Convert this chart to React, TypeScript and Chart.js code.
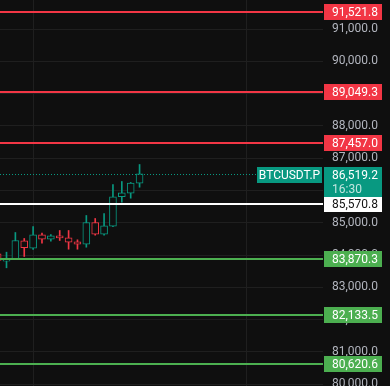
import React, { useEffect, useRef } from 'react';
import { Chart, registerables } from 'chart.js';

Chart.register(...registerables);

// ---- data ----
const candleX = [0, 1, 2, 3, 4, 5, 6, 7, 8, 9, 10, 11, 12, 13, 14, 15, 16];
const candleOpen = [84040, 83810, 83872, 84442, 84213, 84628, 84492, 84597, 84535, 84411, 84337, 85009, 84647, 84894, 85805, 85916, 86230];
const candleClose = [83832, 83863, 84452, 84226, 84628, 84492, 84597, 84535, 84399, 84337, 85009, 84647, 84907, 85805, 85929, 86230, 86519.2];
const candleHigh = [84060, 84089, 84699, 84514, 84885, 84678, 84637, 84761, 84761, 84473, 85226, 85133, 85288, 86186, 86279, 86250, 86805];
const candleLow = [83800, 83606, 83860, 83956, 84173, 84368, 84430, 84452, 84182, 84182, 84244, 84616, 84616, 84880, 85638, 85762, 86102];

const lastPrice = 86519.2;
const symbolLabel = 'BTCUSDT.P';
const countdownLabel = '16:30';

const levelValues = [91521.8, 89049.3, 87457.0, 85570.8, 83870.3, 82133.5, 80620.6];
const levelKinds = ['resistance', 'resistance', 'resistance', 'pivot', 'support', 'support', 'support'];

const yTicks = [80000, 81000, 82000, 83000, 84000, 85000, 86000, 87000, 88000, 89000, 90000, 91000];
const timeGridX = [4, 28];

// ---- styles ----
const BG = '#0f0f0f';
const GRID = '#1f1f1f';
const TEXT = '#b2b5be';
const UP = '#089981';
const DOWN = '#f23645';
const KIND_COLORS: Record<string, string> = {
  resistance: '#f23645',
  pivot: '#ffffff',
  support: '#4caf50',
};
const KIND_TEXT: Record<string, string> = {
  resistance: '#ffffff',
  pivot: '#131313',
  support: '#ffffff',
};
const FONT = 'Roboto';

const fmt = (v: number) =>
  v.toLocaleString('en-US', { minimumFractionDigits: 1, maximumFractionDigits: 1 });

const candleColors = candleX.map((_, i) => (candleClose[i] >= candleOpen[i] ? UP : DOWN));

const overlayPlugin = {
  id: 'levelsOverlay',
  afterDraw(chart: any) {
    const ctx = chart.ctx as CanvasRenderingContext2D;
    const ys = chart.scales.y;
    const area = chart.chartArea;
    const badgeL = area.right + 1;
    const badgeR = badgeL + 58;
    ctx.save();
    // level lines
    levelValues.forEach((v, i) => {
      const py = ys.getPixelForValue(v);
      ctx.strokeStyle = KIND_COLORS[levelKinds[i]];
      ctx.lineWidth = 2;
      ctx.beginPath();
      ctx.moveTo(area.left, Math.round(py));
      ctx.lineTo(area.right, Math.round(py));
      ctx.stroke();
    });
    // last price dotted line
    const lp = ys.getPixelForValue(lastPrice);
    const symL = 257;
    const symR = area.right - 1;
    ctx.strokeStyle = UP;
    ctx.lineWidth = 1;
    ctx.setLineDash([1, 2]);
    ctx.beginPath();
    ctx.moveTo(area.left, Math.round(lp) + 0.5);
    ctx.lineTo(symL, Math.round(lp) + 0.5);
    ctx.stroke();
    ctx.setLineDash([]);

    ctx.font = `12px ${FONT}`;
    ctx.textBaseline = 'middle';
    ctx.textAlign = 'left';
    // level badges
    levelValues.forEach((v, i) => {
      const py = Math.round(ys.getPixelForValue(v));
      ctx.fillStyle = KIND_COLORS[levelKinds[i]];
      ctx.fillRect(badgeL, py - 8, badgeR - badgeL, 16);
      ctx.fillStyle = KIND_TEXT[levelKinds[i]];
      ctx.fillText(fmt(v), badgeL + 8, py + 0.5);
    });
    // symbol badge
    const cy = Math.round(lp) + 1;
    ctx.fillStyle = UP;
    ctx.fillRect(symL, cy - 8, symR - symL, 16);
    ctx.fillStyle = '#ffffff';
    ctx.textAlign = 'center';
    ctx.fillText(symbolLabel, (symL + symR) / 2, cy + 0.5);
    // price + countdown badge
    ctx.fillStyle = UP;
    ctx.fillRect(badgeL, cy - 8, badgeR - badgeL, 30);
    ctx.textAlign = 'left';
    ctx.fillStyle = '#ffffff';
    ctx.fillText(fmt(lastPrice), badgeL + 8, cy + 0.5);
    ctx.fillStyle = 'rgba(255,255,255,0.75)';
    ctx.fillText(countdownLabel, badgeL + 8, cy + 14.5);
    ctx.restore();
  },
};

export default function App() {
  const canvasRef = useRef<HTMLCanvasElement | null>(null);

  useEffect(() => {
    document.body.style.margin = '0';
    document.body.style.background = BG;
    const canvas = canvasRef.current;
    if (!canvas) return;
    const chart = new Chart(canvas, {
      type: 'bar',
      data: {
        datasets: [
          {
            label: 'body',
            data: candleX.map((x, i) => ({ x, y: [candleOpen[i], candleClose[i]] })) as any,
            backgroundColor: BG,
            borderColor: candleColors,
            borderWidth: 1,
            borderSkipped: false,
            barThickness: 7,
            grouped: false,
          } as any,
          {
            label: 'wick',
            data: candleX.map((x, i) => ({ x, y: [candleLow[i], candleHigh[i]] })) as any,
            backgroundColor: candleColors,
            borderWidth: 0,
            barThickness: 1,
            grouped: false,
          } as any,
        ],
      },
      options: {
        responsive: false,
        animation: false,
        devicePixelRatio: 1,
        events: [],
        layout: { padding: 0 },
        plugins: { legend: { display: false }, tooltip: { enabled: false } },
        scales: {
          x: {
            type: 'linear',
            min: 0.267,
            max: 36.68,
            offset: false,
            grid: { color: GRID, drawTicks: false, offset: false },
            border: { display: false },
            ticks: { display: false },
            afterBuildTicks: (s: any) => {
              s.ticks = timeGridX.map((v) => ({ value: v }));
            },
            afterFit: (s: any) => {
              s.height = 0;
              s.paddingLeft = 0;
              s.paddingRight = 0;
            },
          },
          y: {
            type: 'linear',
            position: 'right',
            min: 79945,
            max: 91900,
            grid: { color: GRID, drawTicks: false },
            border: { display: false },
            ticks: {
              color: TEXT,
              font: { family: FONT, size: 12 },
              padding: 9,
              callback: (v: any) => fmt(Number(v)),
            },
            afterBuildTicks: (s: any) => {
              s.ticks = yTicks.map((v) => ({ value: v }));
            },
            afterFit: (s: any) => {
              s.width = 67;
              s.paddingTop = 0;
              s.paddingBottom = 0;
            },
          },
        },
      } as any,
      plugins: [overlayPlugin],
    });
    return () => chart.destroy();
  }, []);

  return (
    <div style={{ position: 'fixed', left: 0, top: 0, width: 390, height: 386, background: BG }}>
      <canvas ref={canvasRef} width={390} height={386} style={{ display: 'block' }} />
    </div>
  );
}
